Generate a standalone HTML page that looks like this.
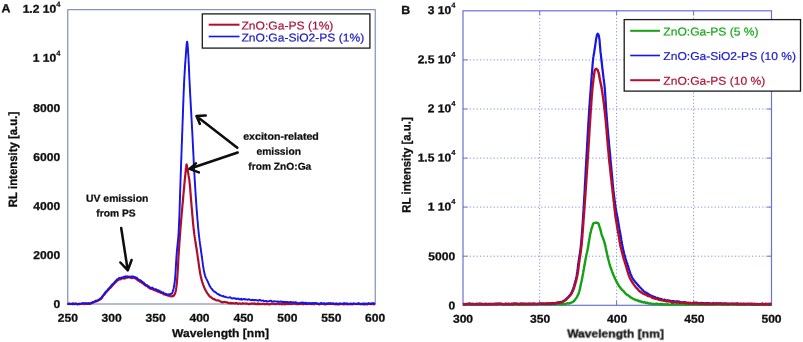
<!DOCTYPE html>
<html><head><meta charset="utf-8"><title>RL spectra</title>
<style>
html,body{margin:0;padding:0;background:#fff;}
svg{display:block;}
text{font-family:"Liberation Sans",sans-serif;}
.b{font-weight:bold;font-size:11.4px;fill:#111;stroke:#111;stroke-width:0.3px;}
.s{font-weight:bold;font-size:7.2px;fill:#111;stroke:#111;stroke-width:0.2px;}
.an{font-weight:bold;font-size:10.05px;fill:#111;stroke:#111;stroke-width:0.25px;}
.lg{font-size:11.4px;}
</style></head><body>
<svg width="803" height="342" viewBox="0 0 803 342">
<rect width="803" height="342" fill="#fff"/>
<defs><filter id="soft" x="0" y="0" width="803" height="342" filterUnits="userSpaceOnUse"><feGaussianBlur stdDeviation="0.45"/></filter></defs>
<g filter="url(#soft)">

<rect x="67.8" y="9.7" width="307.4" height="294.3" fill="none" stroke="#6878b4" stroke-width="1.0"/>
<text class="b" transform="translate(56.2,12.7) rotate(0.03) scale(1.0600,1)" text-anchor="end">1.2 10</text>
<text class="s" transform="translate(56.2,6.7) rotate(0.03) scale(1.0600,1)">4</text>
<text class="b" transform="translate(56.2,61.8) rotate(0.03) scale(1.0600,1)" text-anchor="end">1 10</text>
<text class="s" transform="translate(56.2,55.8) rotate(0.03) scale(1.0600,1)">4</text>
<text class="b" transform="translate(60.2,111.9) rotate(0.03) scale(1.0600,1)" text-anchor="end">8000</text>
<text class="b" transform="translate(60.2,160.9) rotate(0.03) scale(1.0600,1)" text-anchor="end">6000</text>
<text class="b" transform="translate(60.2,210.0) rotate(0.03) scale(1.0600,1)" text-anchor="end">4000</text>
<text class="b" transform="translate(60.2,259.1) rotate(0.03) scale(1.0600,1)" text-anchor="end">2000</text>
<text class="b" transform="translate(60.2,308.1) rotate(0.03) scale(1.0600,1)" text-anchor="end">0</text>
<text class="b" transform="translate(67.8,321.8) rotate(0.03) scale(1.0600,1)" text-anchor="middle">250</text>
<text class="b" transform="translate(111.7,321.8) rotate(0.03) scale(1.0600,1)" text-anchor="middle">300</text>
<text class="b" transform="translate(155.6,321.8) rotate(0.03) scale(1.0600,1)" text-anchor="middle">350</text>
<text class="b" transform="translate(199.5,321.8) rotate(0.03) scale(1.0600,1)" text-anchor="middle">400</text>
<text class="b" transform="translate(243.5,321.8) rotate(0.03) scale(1.0600,1)" text-anchor="middle">450</text>
<text class="b" transform="translate(287.4,321.8) rotate(0.03) scale(1.0600,1)" text-anchor="middle">500</text>
<text class="b" transform="translate(331.3,321.8) rotate(0.03) scale(1.0600,1)" text-anchor="middle">550</text>
<text class="b" transform="translate(375.2,321.8) rotate(0.03) scale(1.0600,1)" text-anchor="middle">600</text>
<text class="b" transform="translate(220.5,337) rotate(0.03) scale(1.0600,1)" text-anchor="middle">Wavelength [nm]</text>
<text class="b" transform="translate(16.9,159.5) rotate(-90.03) scale(1,1.06)" text-anchor="middle">RL intensity [a.u.]</text>
<text class="b" transform="translate(1.4,12.2) rotate(0.03) scale(1.0600,1)" style="font-size:11.7px;">A</text>
<path d="M67.5,303.6 L68.5,303.9 L69.5,303.8 L70.5,304.0 L71.5,304.0 L72.5,303.4 L73.5,303.4 L74.5,304.2 L75.5,303.6 L76.5,303.6 L77.5,304.3 L78.5,303.8 L79.5,304.1 L80.5,303.8 L81.5,303.9 L82.5,303.4 L83.5,303.9 L84.5,304.1 L85.6,303.7 L86.6,303.9 L87.5,303.8 L88.5,303.2 L89.5,303.9 L90.5,303.6 L91.4,303.0 L92.4,302.4 L93.3,302.7 L94.2,301.9 L95.1,301.7 L96.1,301.5 L97.1,301.0 L98.0,300.8 L99.0,300.0 L99.8,299.8 L100.5,299.1 L101.2,298.7 L101.9,297.9 L102.5,296.8 L103.1,295.9 L103.7,295.1 L104.4,294.6 L105.0,293.6 L105.7,292.9 L106.3,292.0 L107.0,291.4 L107.7,290.6 L108.4,289.8 L109.0,289.2 L109.7,288.4 L110.4,287.9 L111.1,287.0 L111.7,286.4 L112.4,285.6 L113.1,284.9 L113.8,284.1 L114.5,283.1 L115.2,282.7 L115.9,282.0 L116.6,281.2 L117.3,280.4 L118.1,280.1 L119.0,279.3 L120.0,279.5 L121.0,279.0 L122.0,278.5 L122.9,278.1 L123.9,278.6 L124.9,278.4 L125.9,277.3 L126.9,277.9 L127.8,277.4 L128.8,277.2 L129.9,277.3 L130.9,277.9 L131.9,278.1 L132.9,277.3 L133.8,278.0 L134.8,277.7 L135.7,278.7 L136.5,278.9 L137.4,279.9 L138.3,280.6 L139.1,280.8 L139.9,281.7 L140.7,281.8 L141.5,282.3 L142.3,283.2 L143.1,283.5 L143.9,284.2 L144.7,284.9 L145.6,285.6 L146.4,285.8 L147.3,286.2 L148.1,287.3 L149.0,287.4 L149.9,288.4 L150.8,288.8 L151.7,288.8 L152.6,289.3 L153.5,289.7 L154.5,290.2 L155.4,290.5 L156.3,290.8 L157.2,291.3 L158.2,291.9 L159.1,292.0 L160.0,292.3 L160.9,292.9 L161.8,292.9 L162.8,293.4 L163.7,294.3 L164.6,294.4 L165.5,294.8 L166.5,294.7 L167.4,295.4 L168.4,295.8 L169.3,295.5 L170.4,296.2 L171.4,296.4 L172.4,295.9 L173.1,296.2 L173.9,295.4 L174.6,294.5 L175.1,293.4 L175.3,292.5 L175.6,291.6 L175.8,290.7 L176.0,289.7 L176.1,288.7 L176.3,287.7 L176.4,286.7 L176.5,285.7 L176.7,284.6 L176.8,283.6 L176.9,282.6 L176.9,281.6 L177.0,280.6 L177.1,279.6 L177.2,278.6 L177.3,277.6 L177.4,276.6 L177.4,275.6 L177.5,274.6 L177.6,273.6 L177.6,272.6 L177.7,271.6 L177.7,270.6 L177.8,269.6 L177.9,268.6 L177.9,267.6 L178.0,266.6 L178.0,265.6 L178.1,264.6 L178.1,263.6 L178.2,262.6 L178.2,261.6 L178.3,260.6 L178.3,259.6 L178.4,258.6 L178.4,257.6 L178.5,256.6 L178.6,255.6 L178.6,254.6 L178.7,253.6 L178.8,252.6 L178.8,251.6 L178.9,250.6 L179.0,249.6 L179.0,248.6 L179.1,247.6 L179.2,246.6 L179.2,245.6 L179.3,244.6 L179.4,243.6 L179.4,242.6 L179.5,241.6 L179.6,240.6 L179.7,239.6 L179.7,238.6 L179.8,237.6 L179.9,236.6 L179.9,235.7 L180.0,234.7 L180.1,233.7 L180.2,232.7 L180.2,231.7 L180.3,230.7 L180.4,229.7 L180.5,228.7 L180.6,227.7 L180.6,226.7 L180.7,225.7 L180.8,224.7 L180.9,223.7 L181.0,222.7 L181.1,221.7 L181.1,220.7 L181.2,219.7 L181.3,218.7 L181.4,217.7 L181.5,216.7 L181.6,215.7 L181.6,214.7 L181.7,213.7 L181.8,212.7 L181.9,211.7 L182.0,210.7 L182.1,209.7 L182.2,208.7 L182.3,207.7 L182.3,206.7 L182.4,205.7 L182.5,204.7 L182.6,203.7 L182.7,202.8 L182.8,201.8 L182.9,200.8 L183.0,199.8 L183.1,198.8 L183.1,197.8 L183.2,196.8 L183.3,195.8 L183.4,194.8 L183.5,193.8 L183.6,192.8 L183.7,191.8 L183.8,190.8 L183.9,189.8 L184.0,188.8 L184.1,187.8 L184.2,186.8 L184.2,185.8 L184.3,184.8 L184.4,183.8 L184.5,182.8 L184.6,181.8 L184.7,180.8 L184.8,179.8 L184.9,178.8 L185.0,177.8 L185.1,176.9 L185.2,175.9 L185.3,174.9 L185.4,173.9 L185.5,172.9 L185.6,171.9 L185.7,170.9 L185.8,169.9 L185.9,168.7 L186.1,167.4 L186.2,166.1 L186.4,165.1 L186.5,164.5 L186.7,164.4 L186.8,165.0 L187.0,166.0 L187.2,167.3 L187.4,168.6 L187.6,169.8 L187.7,170.8 L187.9,171.7 L188.1,172.7 L188.3,173.7 L188.5,174.7 L188.6,175.7 L188.8,176.7 L189.0,177.7 L189.1,178.6 L189.3,179.6 L189.4,180.6 L189.5,181.6 L189.6,182.6 L189.7,183.6 L189.8,184.6 L189.9,185.6 L190.0,186.6 L190.1,187.6 L190.2,188.6 L190.3,189.6 L190.3,190.6 L190.4,191.6 L190.5,192.6 L190.6,193.6 L190.7,194.6 L190.7,195.6 L190.8,196.6 L190.9,197.6 L191.0,198.6 L191.0,199.6 L191.1,200.6 L191.2,201.6 L191.3,202.6 L191.4,203.5 L191.5,204.6 L191.5,205.5 L191.6,206.5 L191.7,207.5 L191.8,208.5 L191.9,209.5 L192.0,210.5 L192.1,211.5 L192.2,212.5 L192.2,213.5 L192.3,214.5 L192.4,215.5 L192.5,216.5 L192.6,217.5 L192.7,218.5 L192.8,219.5 L192.8,220.5 L192.9,221.5 L193.0,222.5 L193.1,223.5 L193.2,224.5 L193.3,225.5 L193.4,226.5 L193.5,227.5 L193.6,228.5 L193.7,229.5 L193.9,230.4 L194.0,231.4 L194.1,232.4 L194.2,233.4 L194.3,234.4 L194.5,235.4 L194.6,236.4 L194.8,237.4 L194.9,238.4 L195.1,239.4 L195.2,240.4 L195.4,241.3 L195.5,242.3 L195.7,243.3 L195.8,244.3 L196.0,245.3 L196.1,246.3 L196.3,247.3 L196.5,248.3 L196.6,249.3 L196.8,250.2 L196.9,251.2 L197.1,252.2 L197.2,253.2 L197.4,254.2 L197.5,255.2 L197.7,256.2 L197.8,257.2 L198.0,258.2 L198.1,259.2 L198.2,260.1 L198.4,261.1 L198.5,262.1 L198.6,263.1 L198.8,264.1 L198.9,265.1 L199.0,266.1 L199.2,267.1 L199.3,268.1 L199.5,269.1 L199.6,270.1 L199.8,271.0 L199.9,272.0 L200.1,273.0 L200.3,274.0 L200.5,275.0 L200.7,275.9 L200.9,276.9 L201.1,277.9 L201.4,278.9 L201.6,279.9 L201.9,280.8 L202.2,281.8 L202.5,282.7 L202.8,283.7 L203.1,284.6 L203.5,285.5 L203.8,286.5 L204.2,287.4 L204.6,288.3 L205.0,289.2 L205.5,290.1 L206.0,291.1 L206.5,291.8 L207.0,292.9 L207.6,293.6 L208.2,294.5 L208.8,295.2 L209.4,296.1 L210.1,296.8 L210.9,297.2 L211.8,297.8 L212.6,298.5 L213.5,299.1 L214.5,299.1 L215.4,299.8 L216.3,300.4 L217.2,300.3 L218.2,300.4 L219.1,300.7 L220.1,301.5 L221.1,301.7 L222.0,302.2 L223.0,302.3 L224.0,301.9 L225.0,302.0 L226.0,302.2 L227.0,302.3 L228.0,302.9 L229.0,303.2 L230.0,303.3 L231.0,302.8 L232.0,303.5 L233.0,303.0 L233.9,303.2 L234.9,303.6 L235.9,303.0 L236.9,303.1 L237.9,303.9 L238.9,303.4 L239.9,303.5 L240.9,303.7 L241.9,303.8 L242.9,303.2 L243.9,303.5 L244.9,303.6 L245.9,303.7 L246.9,303.4 L247.9,303.8 L248.9,304.2 L249.9,303.7 L250.9,303.8 L251.9,303.4 L252.9,303.6 L253.9,304.0 L254.9,303.4 L255.9,304.2 L256.9,304.2 L257.9,303.4 L258.9,304.3 L259.9,303.7 L260.9,304.1 L262.0,304.1 L263.0,303.7 L264.0,304.1 L265.0,304.0 L266.0,304.2 L267.0,303.7 L268.0,304.1 L269.0,304.4 L270.0,304.1 L271.0,303.9 L272.0,303.5 L273.0,303.9 L274.0,303.8 L275.0,304.1 L276.0,304.1 L277.0,304.0 L278.0,303.6 L279.0,304.1 L280.0,304.1 L281.0,303.6 L282.0,304.3 L283.0,304.1 L284.0,303.5 L285.0,304.4 L286.0,303.6 L287.0,303.8 L288.0,304.2 L289.0,304.0 L290.0,304.0 L291.0,304.1 L292.0,303.9 L293.0,303.8 L294.0,303.6 L295.0,303.5 L296.0,304.2 L297.0,304.2 L298.0,304.0 L299.0,304.2 L300.0,303.8 L301.0,303.7 L302.0,303.8 L303.0,304.3 L304.0,303.5 L305.0,304.0 L306.0,303.7 L307.0,304.2 L308.0,303.8 L309.0,303.8 L310.0,303.9 L311.0,304.0 L312.0,304.2 L313.0,303.8 L314.0,304.3 L315.0,303.6 L316.0,303.7 L317.0,303.6 L318.0,303.6 L319.0,304.3 L320.0,304.2 L321.0,303.7 L322.0,303.7 L323.0,303.9 L324.0,304.2 L325.0,304.3 L326.0,304.2 L327.0,304.1 L328.0,303.6 L329.0,303.9 L330.0,303.7 L331.0,304.0 L332.0,304.1 L333.0,303.7 L334.0,303.7 L335.0,304.3 L336.0,303.5 L337.0,304.3 L338.0,304.4 L339.0,304.4 L340.0,303.9 L341.0,304.0 L342.0,304.1 L343.0,304.1 L344.0,304.5 L345.0,304.2 L346.0,303.8 L347.0,304.4 L348.0,304.0 L349.0,304.1 L350.0,304.2 L351.0,303.5 L352.0,304.3 L353.0,304.2 L354.0,304.0 L355.0,304.0 L356.0,304.0 L357.0,303.7 L358.0,304.0 L359.0,303.5 L360.0,304.0 L361.0,304.1 L362.0,303.9 L363.0,304.1 L364.0,304.5 L365.0,304.4 L366.0,303.6 L367.0,304.3 L368.0,304.1 L369.0,303.6 L370.0,303.9 L371.0,303.7 L372.0,303.6 L373.0,304.0 L374.0,304.4 L375.0,303.8" fill="none" stroke="#b0102c" stroke-width="2.2" stroke-linejoin="round"/>
<path d="M67.5,304.2 L68.5,304.0 L69.5,303.4 L70.5,304.2 L71.5,303.9 L72.5,304.3 L73.5,304.0 L74.5,304.0 L75.5,303.6 L76.5,304.1 L77.5,304.2 L78.5,304.2 L79.5,303.6 L80.5,304.0 L81.5,303.7 L82.5,303.2 L83.5,303.1 L84.6,303.1 L85.6,303.3 L86.6,303.2 L87.6,303.6 L88.5,303.8 L89.5,303.5 L90.4,303.3 L91.4,303.2 L92.3,302.4 L93.2,302.1 L94.1,301.9 L95.0,301.1 L96.0,300.5 L96.9,300.8 L97.9,300.2 L98.8,299.5 L99.6,299.0 L100.4,298.6 L101.1,298.0 L101.8,297.1 L102.4,296.2 L103.0,295.5 L103.6,294.9 L104.2,293.8 L104.8,293.1 L105.5,292.2 L106.1,291.4 L106.8,290.7 L107.5,290.1 L108.1,289.2 L108.8,288.4 L109.5,287.7 L110.1,287.0 L110.8,286.4 L111.5,285.4 L112.1,284.6 L112.8,284.1 L113.5,283.4 L114.2,282.8 L114.9,281.7 L115.5,281.1 L116.2,280.4 L116.9,279.4 L117.7,279.5 L118.6,278.4 L119.5,277.9 L120.5,278.1 L121.5,277.5 L122.5,277.7 L123.4,277.2 L124.4,276.7 L125.4,276.3 L126.4,276.9 L127.4,276.3 L128.3,276.8 L129.4,276.5 L130.4,277.1 L131.4,276.4 L132.4,276.4 L133.4,276.5 L134.3,277.2 L135.2,277.3 L136.1,277.5 L137.0,277.9 L137.8,279.0 L138.7,279.8 L139.5,280.0 L140.3,280.2 L141.1,280.8 L141.9,281.5 L142.7,282.1 L143.5,282.6 L144.3,283.2 L145.1,284.3 L146.0,285.0 L146.8,284.9 L147.7,286.1 L148.6,286.2 L149.4,287.0 L150.3,287.6 L151.2,288.0 L152.1,287.5 L153.1,288.2 L154.0,288.9 L154.9,289.6 L155.8,289.1 L156.8,289.7 L157.7,290.6 L158.6,290.3 L159.5,291.0 L160.4,291.3 L161.4,292.1 L162.3,292.7 L163.2,292.3 L164.2,293.3 L165.1,293.7 L166.1,294.2 L167.0,294.2 L168.0,294.8 L168.9,294.2 L170.0,294.2 L171.1,293.8 L171.7,293.9 L172.2,293.0 L172.6,292.0 L173.0,290.9 L173.2,289.9 L173.5,288.9 L173.7,287.9 L173.9,287.0 L174.1,286.0 L174.3,285.0 L174.4,284.0 L174.6,283.0 L174.7,282.0 L174.8,281.0 L174.9,280.0 L175.0,279.0 L175.1,278.0 L175.2,277.0 L175.3,276.0 L175.3,275.0 L175.4,274.0 L175.5,273.0 L175.5,272.0 L175.6,271.0 L175.7,270.0 L175.7,269.0 L175.8,268.0 L175.8,267.0 L175.9,266.1 L176.0,265.0 L176.0,264.0 L176.1,263.0 L176.1,262.0 L176.2,261.0 L176.3,260.0 L176.3,259.0 L176.4,258.0 L176.4,257.0 L176.5,256.1 L176.6,255.0 L176.7,254.1 L176.8,253.1 L176.8,252.1 L176.9,251.1 L177.0,250.1 L177.1,249.1 L177.2,248.1 L177.3,247.1 L177.4,246.1 L177.5,245.1 L177.6,244.1 L177.7,243.1 L177.8,242.1 L177.9,241.1 L178.0,240.1 L178.1,239.1 L178.2,238.1 L178.3,237.1 L178.4,236.1 L178.4,235.1 L178.5,234.1 L178.6,233.1 L178.6,232.1 L178.7,231.1 L178.7,230.1 L178.8,229.1 L178.8,228.1 L178.9,227.1 L178.9,226.1 L179.0,225.2 L179.0,224.2 L179.1,223.2 L179.1,222.2 L179.2,221.2 L179.2,220.2 L179.2,219.2 L179.3,218.2 L179.3,217.2 L179.4,216.2 L179.4,215.2 L179.4,214.2 L179.5,213.2 L179.5,212.2 L179.5,211.2 L179.6,210.2 L179.6,209.2 L179.6,208.2 L179.7,207.2 L179.7,206.2 L179.7,205.2 L179.8,204.2 L179.8,203.2 L179.8,202.2 L179.9,201.2 L179.9,200.2 L179.9,199.2 L180.0,198.2 L180.0,197.2 L180.0,196.2 L180.0,195.2 L180.1,194.2 L180.1,193.2 L180.1,192.2 L180.2,191.2 L180.2,190.2 L180.2,189.2 L180.3,188.2 L180.3,187.2 L180.3,186.2 L180.4,185.2 L180.4,184.2 L180.4,183.2 L180.5,182.2 L180.5,181.2 L180.5,180.2 L180.6,179.2 L180.6,178.2 L180.6,177.2 L180.7,176.2 L180.7,175.2 L180.7,174.2 L180.8,173.2 L180.8,172.2 L180.9,171.2 L180.9,170.2 L180.9,169.2 L181.0,168.2 L181.0,167.2 L181.0,166.2 L181.1,165.2 L181.1,164.2 L181.1,163.2 L181.2,162.2 L181.2,161.2 L181.2,160.2 L181.3,159.2 L181.3,158.2 L181.4,157.2 L181.4,156.2 L181.4,155.2 L181.5,154.2 L181.5,153.2 L181.5,152.2 L181.6,151.2 L181.6,150.2 L181.6,149.2 L181.7,148.2 L181.7,147.2 L181.7,146.2 L181.8,145.2 L181.8,144.2 L181.9,143.2 L181.9,142.2 L181.9,141.2 L182.0,140.2 L182.0,139.2 L182.0,138.2 L182.1,137.2 L182.1,136.2 L182.1,135.2 L182.2,134.2 L182.2,133.2 L182.3,132.2 L182.3,131.2 L182.3,130.2 L182.4,129.2 L182.4,128.2 L182.4,127.2 L182.5,126.2 L182.5,125.2 L182.5,124.2 L182.6,123.2 L182.6,122.2 L182.6,121.2 L182.7,120.2 L182.7,119.2 L182.8,118.2 L182.8,117.2 L182.8,116.2 L182.9,115.2 L182.9,114.2 L182.9,113.2 L183.0,112.2 L183.0,111.2 L183.0,110.2 L183.1,109.2 L183.1,108.2 L183.1,107.2 L183.2,106.2 L183.2,105.2 L183.2,104.2 L183.3,103.2 L183.3,102.2 L183.4,101.2 L183.4,100.2 L183.4,99.2 L183.5,98.2 L183.5,97.2 L183.5,96.2 L183.6,95.2 L183.6,94.2 L183.7,93.2 L183.7,92.2 L183.7,91.2 L183.8,90.2 L183.8,89.2 L183.9,88.2 L183.9,87.2 L184.0,86.2 L184.0,85.2 L184.0,84.2 L184.1,83.2 L184.1,82.2 L184.2,81.2 L184.2,80.2 L184.3,79.2 L184.3,78.2 L184.4,77.2 L184.4,76.2 L184.5,75.2 L184.6,74.2 L184.6,73.2 L184.7,72.2 L184.7,71.2 L184.8,70.2 L184.9,69.2 L184.9,68.2 L185.0,67.2 L185.0,66.2 L185.1,65.2 L185.2,64.2 L185.2,63.2 L185.3,62.2 L185.4,61.2 L185.5,60.2 L185.5,59.2 L185.6,58.3 L185.7,57.3 L185.8,56.2 L185.8,55.1 L185.9,53.9 L186.0,52.6 L186.1,51.3 L186.2,49.9 L186.3,48.6 L186.4,47.4 L186.5,46.2 L186.6,45.1 L186.7,44.1 L186.8,43.2 L186.9,42.5 L187.0,42.1 L187.1,41.7 L187.1,41.6 L187.2,42.1 L187.3,42.5 L187.4,43.2 L187.5,44.0 L187.6,45.0 L187.7,46.1 L187.8,47.3 L187.9,48.6 L188.0,49.9 L188.1,51.2 L188.1,52.5 L188.2,53.8 L188.3,55.1 L188.4,56.2 L188.4,57.2 L188.5,58.2 L188.5,59.2 L188.6,60.2 L188.6,61.2 L188.7,62.2 L188.7,63.2 L188.8,64.2 L188.8,65.2 L188.9,66.2 L188.9,67.2 L189.0,68.2 L189.0,69.2 L189.0,70.2 L189.1,71.2 L189.1,72.2 L189.2,73.2 L189.2,74.2 L189.2,75.2 L189.3,76.2 L189.3,77.2 L189.4,78.2 L189.4,79.2 L189.5,80.2 L189.5,81.2 L189.6,82.2 L189.6,83.2 L189.7,84.2 L189.7,85.2 L189.8,86.2 L189.8,87.2 L189.9,88.2 L189.9,89.2 L190.0,90.2 L190.0,91.2 L190.1,92.2 L190.1,93.2 L190.2,94.2 L190.2,95.2 L190.3,96.2 L190.3,97.2 L190.4,98.2 L190.5,99.2 L190.5,100.2 L190.6,101.2 L190.6,102.2 L190.7,103.2 L190.7,104.2 L190.8,105.2 L190.8,106.2 L190.9,107.2 L190.9,108.2 L191.0,109.2 L191.1,110.2 L191.1,111.2 L191.2,112.2 L191.2,113.2 L191.3,114.2 L191.3,115.2 L191.4,116.2 L191.4,117.2 L191.5,118.2 L191.6,119.2 L191.6,120.2 L191.7,121.2 L191.7,122.2 L191.8,123.2 L191.8,124.2 L191.9,125.2 L191.9,126.2 L192.0,127.2 L192.0,128.1 L192.1,129.1 L192.2,130.1 L192.2,131.1 L192.3,132.1 L192.3,133.1 L192.4,134.1 L192.4,135.1 L192.5,136.1 L192.5,137.1 L192.6,138.1 L192.6,139.1 L192.7,140.1 L192.7,141.1 L192.8,142.1 L192.8,143.1 L192.9,144.1 L192.9,145.1 L193.0,146.1 L193.0,147.1 L193.1,148.1 L193.1,149.1 L193.2,150.1 L193.2,151.1 L193.3,152.1 L193.3,153.1 L193.4,154.1 L193.4,155.1 L193.5,156.1 L193.5,157.1 L193.6,158.1 L193.6,159.1 L193.7,160.1 L193.7,161.1 L193.8,162.1 L193.8,163.1 L193.9,164.1 L193.9,165.1 L194.0,166.1 L194.0,167.1 L194.1,168.1 L194.1,169.1 L194.2,170.1 L194.2,171.1 L194.3,172.1 L194.3,173.1 L194.4,174.1 L194.5,175.1 L194.5,176.1 L194.6,177.1 L194.6,178.1 L194.7,179.1 L194.7,180.1 L194.8,181.1 L194.9,182.1 L194.9,183.1 L195.0,184.1 L195.1,185.1 L195.1,186.1 L195.2,187.1 L195.2,188.1 L195.3,189.1 L195.4,190.1 L195.4,191.1 L195.5,192.1 L195.6,193.1 L195.6,194.1 L195.7,195.1 L195.7,196.1 L195.8,197.1 L195.9,198.1 L195.9,199.1 L196.0,200.1 L196.1,201.1 L196.1,202.1 L196.2,203.1 L196.3,204.0 L196.4,205.0 L196.4,206.0 L196.5,207.0 L196.6,208.0 L196.6,209.0 L196.7,210.0 L196.8,211.0 L196.9,212.0 L196.9,213.0 L197.0,214.0 L197.1,215.0 L197.2,216.0 L197.3,217.0 L197.3,218.0 L197.4,219.0 L197.5,220.0 L197.6,221.0 L197.7,222.0 L197.8,223.0 L197.9,224.0 L197.9,225.0 L198.0,226.0 L198.1,227.0 L198.2,228.0 L198.3,229.0 L198.4,230.0 L198.5,231.0 L198.6,231.9 L198.7,232.9 L198.8,233.9 L198.9,234.9 L199.0,235.9 L199.1,236.9 L199.3,237.9 L199.4,238.9 L199.5,239.9 L199.6,240.9 L199.8,241.9 L199.9,242.9 L200.0,243.9 L200.2,244.9 L200.3,245.9 L200.4,246.8 L200.6,247.8 L200.7,248.8 L200.9,249.8 L201.0,250.8 L201.1,251.8 L201.3,252.8 L201.4,253.8 L201.6,254.8 L201.7,255.8 L201.8,256.8 L202.0,257.7 L202.1,258.7 L202.3,259.8 L202.4,260.7 L202.5,261.7 L202.7,262.7 L202.8,263.7 L202.9,264.7 L203.1,265.7 L203.2,266.7 L203.4,267.7 L203.6,268.7 L203.7,269.7 L203.9,270.7 L204.1,271.6 L204.3,272.6 L204.5,273.6 L204.8,274.5 L205.0,275.5 L205.3,276.5 L205.7,277.3 L206.1,278.3 L206.5,279.1 L207.0,280.0 L207.4,280.9 L207.9,281.8 L208.3,282.8 L208.7,283.7 L209.1,284.7 L209.5,285.6 L210.0,286.3 L210.5,287.3 L211.0,288.1 L211.6,288.7 L212.3,289.5 L213.0,290.3 L213.7,291.3 L214.5,291.7 L215.3,292.1 L216.1,292.8 L216.9,293.5 L217.7,294.1 L218.6,294.3 L219.6,295.2 L220.5,295.1 L221.4,295.9 L222.4,296.2 L223.3,296.0 L224.3,296.9 L225.2,296.7 L226.2,297.1 L227.2,297.4 L228.2,297.6 L229.2,297.5 L230.2,297.2 L231.2,298.2 L232.2,298.5 L233.1,298.2 L234.1,298.4 L235.1,298.1 L236.1,299.0 L237.1,298.9 L238.1,298.4 L239.1,299.2 L240.1,299.5 L241.1,298.8 L242.1,299.7 L243.1,299.2 L244.1,298.9 L245.1,299.6 L246.1,299.2 L247.1,299.8 L248.1,299.7 L249.1,299.2 L250.1,299.8 L251.1,300.2 L252.1,299.8 L253.1,300.0 L254.1,300.4 L255.1,300.0 L256.1,300.1 L257.1,300.3 L258.1,300.7 L259.1,300.0 L260.1,299.9 L261.1,300.8 L262.1,300.6 L263.1,300.4 L264.1,301.2 L265.1,301.2 L266.1,300.9 L267.0,301.5 L268.0,301.4 L269.0,301.3 L270.0,300.9 L271.0,300.6 L272.0,301.5 L273.0,301.6 L274.0,301.2 L275.0,301.4 L276.0,301.6 L277.0,301.3 L278.0,301.9 L279.0,301.8 L280.0,301.7 L281.0,301.4 L282.0,302.0 L283.0,301.8 L284.0,302.4 L285.0,301.8 L286.0,302.1 L287.0,301.9 L288.0,302.2 L289.0,302.5 L290.0,302.0 L291.0,302.0 L292.0,302.5 L293.0,302.2 L294.0,302.6 L295.0,302.3 L296.0,302.2 L297.0,302.8 L298.0,303.3 L299.0,303.3 L300.0,302.9 L301.0,302.8 L302.0,302.4 L303.0,302.7 L304.0,302.8 L305.0,303.6 L306.0,302.6 L307.0,303.7 L308.0,303.1 L309.0,303.1 L310.0,302.9 L311.0,303.8 L312.0,302.9 L313.0,303.3 L314.0,303.3 L315.0,302.9 L316.0,303.0 L317.0,303.9 L318.0,303.7 L319.0,303.6 L320.0,303.9 L321.0,302.9 L322.0,303.6 L323.0,303.7 L324.0,303.1 L325.0,303.4 L326.0,304.0 L327.0,303.3 L328.0,303.8 L329.0,303.1 L330.0,303.7 L331.0,303.2 L332.0,303.5 L333.0,303.4 L334.0,304.0 L335.0,303.9 L336.0,303.6 L337.0,303.8 L338.0,303.5 L339.0,304.0 L340.0,303.3 L341.0,303.7 L342.0,303.7 L343.0,303.5 L344.0,303.1 L345.0,303.2 L346.0,303.8 L347.0,303.3 L348.0,304.0 L349.0,303.7 L350.0,304.2 L351.0,304.1 L352.0,304.0 L353.0,303.5 L354.0,303.2 L355.0,303.8 L356.0,304.0 L357.0,304.2 L358.0,303.4 L359.0,303.3 L360.0,304.3 L361.0,304.0 L362.0,303.7 L363.0,304.0 L364.0,303.3 L365.0,303.8 L366.0,304.0 L367.0,303.9 L368.0,303.4 L369.0,303.3 L370.0,303.9 L371.0,304.3 L372.0,303.4 L373.0,303.2 L374.0,303.3 L375.0,304.1" fill="none" stroke="#1212e6" stroke-width="1.9" stroke-linejoin="round"/>
<rect x="202.3" y="13.9" width="167.6" height="34.2" fill="#fff" stroke="#1a1a1a" stroke-width="1.3"/>
<line x1="208.7" y1="24.7" x2="239.5" y2="24.7" stroke="#b0102c" stroke-width="2"/>
<line x1="208.7" y1="36.5" x2="239.5" y2="36.5" stroke="#1212e6" stroke-width="1.6"/>
<text class="lg" transform="translate(241.5,29.4) rotate(0.03) scale(1.0600,1)" fill="#a8143c" stroke="#a8143c" stroke-width="0.2">ZnO:Ga-PS (1%)</text>
<text class="lg" transform="translate(241.5,41.4) rotate(0.03) scale(1.0600,1)" fill="#1a1ac4" stroke="#1a1ac4" stroke-width="0.2">ZnO:Ga-SiO2-PS (1%)</text>
<text class="an" transform="translate(281,139.7) rotate(0.03) scale(1.0600,1)" text-anchor="middle">exciton-related</text>
<text class="an" transform="translate(278.7,154.7) rotate(0.03) scale(1.0250,1)" text-anchor="middle">emission</text>
<text class="an" transform="translate(279.8,169.7) rotate(0.03) scale(1.0176,1)" text-anchor="middle">from ZnO:Ga</text>
<text class="an" transform="translate(117.2,201.7) rotate(0.03) scale(1.0335,1)" text-anchor="middle">UV emission</text>
<text class="an" transform="translate(115.9,216.6) rotate(0.03) scale(1.0229,1)" text-anchor="middle">from PS</text>
<path d="M237.3,147.8 L196.6,116.2 M205.7,115.5 L196.5,116 L199.9,123.9" fill="none" stroke="#0a0a0a" stroke-width="2.5" stroke-linecap="round" stroke-linejoin="round"/>
<path d="M237.7,152.5 L189.6,168.8 M195.9,163.4 L189.4,168.9 L198.9,172.4" fill="none" stroke="#0a0a0a" stroke-width="2.5" stroke-linecap="round" stroke-linejoin="round"/>
<path d="M121.2,228 L127.7,270 M120.4,262.5 L127.8,270.4 L131.6,260" fill="none" stroke="#0a0a0a" stroke-width="2.5" stroke-linecap="round" stroke-linejoin="round"/>
<line x1="463" y1="59.9" x2="771.5" y2="59.9" stroke="#8590dc" stroke-width="1" stroke-dasharray="1.2,2.2"/>
<line x1="463" y1="109.0" x2="771.5" y2="109.0" stroke="#8590dc" stroke-width="1" stroke-dasharray="1.2,2.2"/>
<line x1="463" y1="158.1" x2="771.5" y2="158.1" stroke="#8590dc" stroke-width="1" stroke-dasharray="1.2,2.2"/>
<line x1="463" y1="207.1" x2="771.5" y2="207.1" stroke="#8590dc" stroke-width="1" stroke-dasharray="1.2,2.2"/>
<line x1="463" y1="256.2" x2="771.5" y2="256.2" stroke="#8590dc" stroke-width="1" stroke-dasharray="1.2,2.2"/>
<line x1="539.7" y1="10.8" x2="539.7" y2="305.3" stroke="#8590dc" stroke-width="1" stroke-dasharray="1.2,2.2"/>
<line x1="616.6" y1="10.8" x2="616.6" y2="305.3" stroke="#8590dc" stroke-width="1" stroke-dasharray="1.2,2.2"/>
<line x1="693.6" y1="10.8" x2="693.6" y2="305.3" stroke="#8590dc" stroke-width="1" stroke-dasharray="1.2,2.2"/>
<path d="M463,59.9h4.5M771.5,59.9h-4.5M463,109.0h4.5M771.5,109.0h-4.5M463,158.1h4.5M771.5,158.1h-4.5M463,207.1h4.5M771.5,207.1h-4.5M463,256.2h4.5M771.5,256.2h-4.5M539.7,10.8v4.5M539.7,305.3v-4.5M616.6,10.8v4.5M616.6,305.3v-4.5M693.6,10.8v4.5M693.6,305.3v-4.5" fill="none" stroke="#7078d8" stroke-width="1"/>
<rect x="463" y="10.8" width="308.5" height="294.5" fill="none" stroke="#6a72d6" stroke-width="1.2"/>
<text class="b" transform="translate(451.2,14.1) rotate(0.03) scale(1.0600,1)" text-anchor="end">3 10</text>
<text class="s" transform="translate(451.2,7.8) rotate(0.03) scale(1.0600,1)">4</text>
<text class="b" transform="translate(451.2,63.2) rotate(0.03) scale(1.0600,1)" text-anchor="end">2.5 10</text>
<text class="s" transform="translate(451.2,56.9) rotate(0.03) scale(1.0600,1)">4</text>
<text class="b" transform="translate(451.2,112.3) rotate(0.03) scale(1.0600,1)" text-anchor="end">2 10</text>
<text class="s" transform="translate(451.2,106.0) rotate(0.03) scale(1.0600,1)">4</text>
<text class="b" transform="translate(451.2,161.4) rotate(0.03) scale(1.0600,1)" text-anchor="end">1.5 10</text>
<text class="s" transform="translate(451.2,155.1) rotate(0.03) scale(1.0600,1)">4</text>
<text class="b" transform="translate(451.2,210.4) rotate(0.03) scale(1.0600,1)" text-anchor="end">1 10</text>
<text class="s" transform="translate(451.2,204.1) rotate(0.03) scale(1.0600,1)">4</text>
<text class="b" transform="translate(455.2,260.3) rotate(0.03) scale(1.0600,1)" text-anchor="end">5000</text>
<text class="b" transform="translate(455.2,309.4) rotate(0.03) scale(1.0600,1)" text-anchor="end">0</text>
<text class="b" transform="translate(463.0,322.8) rotate(0.03) scale(1.0600,1)" text-anchor="middle">300</text>
<text class="b" transform="translate(540.1,322.8) rotate(0.03) scale(1.0600,1)" text-anchor="middle">350</text>
<text class="b" transform="translate(617.2,322.8) rotate(0.03) scale(1.0600,1)" text-anchor="middle">400</text>
<text class="b" transform="translate(694.4,322.8) rotate(0.03) scale(1.0600,1)" text-anchor="middle">450</text>
<text class="b" transform="translate(771.5,322.8) rotate(0.03) scale(1.0600,1)" text-anchor="middle">500</text>
<text class="b" transform="translate(615.5,337.5) rotate(0.03) scale(1.0600,1)" text-anchor="middle">Wavelength [nm]</text>
<text class="b" transform="translate(410.4,165) rotate(-90.03) scale(1,1.06)" text-anchor="middle">RL intensity [a.u.]</text>
<text class="b" transform="translate(401.2,14.1) rotate(0.03) scale(1.0600,1)" style="font-size:11.7px;">B</text>
<path d="M463.0,304.2 L464.0,304.3 L465.0,304.7 L466.0,304.4 L467.0,304.1 L468.0,304.5 L469.0,303.9 L470.0,304.1 L471.0,304.5 L472.0,304.0 L473.0,303.9 L474.0,304.3 L475.0,304.2 L476.0,304.7 L477.0,304.0 L478.0,304.5 L479.0,304.2 L480.0,304.5 L481.0,304.3 L482.0,304.4 L483.0,304.2 L484.0,304.1 L485.0,304.3 L486.0,304.5 L487.0,304.2 L488.0,304.1 L489.0,304.2 L490.0,304.0 L491.0,304.1 L492.0,304.4 L493.0,304.3 L494.0,304.4 L495.0,304.1 L496.0,303.9 L497.0,303.9 L498.1,304.2 L499.1,304.0 L500.1,304.3 L501.1,304.1 L502.1,304.5 L503.1,304.4 L504.1,304.4 L505.1,304.5 L506.1,304.3 L507.1,304.2 L508.1,304.1 L509.1,303.9 L510.1,304.5 L511.1,304.3 L512.1,304.0 L513.1,304.6 L514.1,304.3 L515.1,304.4 L516.1,304.2 L517.1,304.0 L518.1,304.7 L519.1,304.0 L520.1,304.2 L521.1,304.7 L522.1,304.0 L523.1,304.3 L524.1,304.2 L525.1,304.1 L526.1,304.6 L527.1,304.2 L528.1,303.9 L529.1,304.2 L530.1,303.8 L531.1,304.4 L532.1,304.5 L533.1,304.6 L534.1,303.9 L535.1,304.4 L536.1,304.1 L537.1,304.2 L538.1,304.1 L539.1,304.1 L540.1,303.9 L541.1,304.3 L542.1,303.9 L543.1,304.6 L544.1,303.9 L545.1,304.6 L546.1,304.0 L547.1,303.9 L548.1,304.4 L549.1,304.2 L550.1,304.4 L551.1,304.2 L552.1,304.3 L553.1,303.8 L554.1,304.3 L555.1,304.2 L556.1,304.5 L557.1,303.7 L558.1,303.8 L559.2,304.2 L560.2,304.4 L561.2,304.0 L562.2,304.2 L563.1,304.0 L564.1,303.8 L565.1,303.9 L566.1,303.9 L567.2,303.3 L568.2,303.4 L569.2,303.5 L570.2,302.9 L571.1,302.8 L572.0,302.3 L572.8,301.9 L573.6,301.4 L574.3,300.6 L575.0,299.9 L575.6,298.9 L576.2,298.1 L576.7,297.3 L577.2,296.4 L577.7,295.5 L578.1,294.6 L578.5,293.7 L578.9,292.7 L579.2,291.8 L579.4,290.8 L579.7,289.9 L579.9,288.9 L580.1,287.9 L580.3,286.9 L580.5,285.9 L580.7,284.9 L580.9,284.0 L581.1,283.0 L581.4,282.0 L581.6,281.0 L581.8,280.0 L582.0,279.1 L582.2,278.1 L582.4,277.1 L582.6,276.1 L582.7,275.1 L582.9,274.2 L583.1,273.2 L583.3,272.2 L583.4,271.2 L583.6,270.2 L583.8,269.2 L584.0,268.2 L584.1,267.2 L584.3,266.3 L584.5,265.3 L584.7,264.3 L584.8,263.3 L585.0,262.3 L585.2,261.3 L585.4,260.3 L585.5,259.4 L585.7,258.4 L585.9,257.4 L586.1,256.4 L586.3,255.4 L586.5,254.5 L586.7,253.5 L587.0,252.5 L587.2,251.5 L587.4,250.6 L587.6,249.6 L587.8,248.6 L588.0,247.6 L588.2,246.6 L588.3,245.6 L588.5,244.6 L588.6,243.6 L588.8,242.6 L588.9,241.7 L589.1,240.7 L589.2,239.7 L589.4,238.7 L589.6,237.7 L589.7,236.7 L589.9,235.7 L590.1,234.8 L590.3,233.8 L590.5,232.8 L590.8,231.8 L591.0,230.9 L591.2,229.8 L591.5,228.9 L591.8,228.0 L592.1,227.0 L592.4,226.1 L592.7,225.0 L593.1,223.9 L593.6,223.1 L594.5,223.0 L595.5,222.8 L596.6,222.7 L597.6,223.0 L598.3,223.4 L598.8,224.3 L599.1,225.4 L599.4,226.4 L599.7,227.3 L600.0,228.2 L600.3,229.2 L600.5,230.2 L600.8,231.1 L601.0,232.2 L601.3,233.1 L601.5,234.1 L601.8,235.0 L602.2,235.9 L602.5,236.9 L602.9,237.8 L603.2,238.8 L603.6,239.7 L603.9,240.6 L604.2,241.6 L604.5,242.6 L604.8,243.6 L605.0,244.5 L605.2,245.5 L605.5,246.4 L605.7,247.5 L605.9,248.4 L606.1,249.4 L606.3,250.4 L606.5,251.4 L606.7,252.3 L606.9,253.3 L607.1,254.3 L607.4,255.3 L607.6,256.3 L607.8,257.2 L608.0,258.2 L608.3,259.2 L608.5,260.1 L608.8,261.1 L609.0,262.1 L609.3,263.1 L609.5,264.0 L609.8,265.0 L610.1,265.9 L610.4,266.9 L610.7,267.8 L611.1,268.8 L611.4,269.7 L611.8,270.6 L612.1,271.6 L612.5,272.6 L612.9,273.5 L613.2,274.4 L613.6,275.3 L614.0,276.3 L614.4,277.1 L614.8,278.1 L615.2,279.0 L615.6,279.8 L616.1,280.8 L616.5,281.7 L617.0,282.6 L617.5,283.5 L618.0,284.3 L618.5,285.2 L619.1,285.9 L619.6,287.0 L620.2,287.5 L620.8,288.5 L621.5,289.1 L622.2,290.1 L622.9,290.6 L623.6,291.2 L624.3,292.1 L625.0,292.9 L625.7,293.6 L626.5,294.3 L627.2,295.0 L628.0,295.2 L628.8,296.0 L629.6,296.4 L630.5,297.3 L631.3,297.6 L632.2,298.3 L633.1,298.8 L634.0,299.3 L634.9,299.5 L635.9,300.1 L636.8,300.3 L637.7,300.3 L638.6,301.2 L639.6,301.0 L640.5,301.3 L641.5,302.1 L642.5,302.0 L643.4,302.5 L644.4,302.2 L645.4,302.6 L646.4,303.1 L647.4,302.7 L648.4,303.3 L649.4,303.7 L650.4,303.3 L651.4,303.8 L652.4,303.9 L653.4,303.9 L654.3,304.1 L655.3,304.1 L656.3,303.6 L657.3,303.8 L658.3,304.1 L659.3,304.5 L660.3,303.9 L661.3,304.3 L662.3,303.9 L663.3,304.6 L664.4,304.3 L665.4,304.4 L666.4,304.5 L667.4,304.1 L668.4,304.6 L669.4,304.6 L670.4,304.7 L671.4,304.2 L672.4,304.2 L673.4,304.1 L674.4,304.7 L675.4,304.4 L676.4,304.3 L677.4,304.4 L678.4,304.6 L679.4,304.3 L680.4,304.3 L681.4,304.6 L682.4,304.6 L683.4,304.3 L684.4,304.1 L685.4,304.8 L686.4,304.6 L687.4,304.5 L688.4,304.4 L689.4,304.8 L690.4,304.4 L691.4,304.2 L692.4,304.1 L693.4,304.3 L694.4,304.5 L695.4,304.3 L696.4,304.8 L697.4,304.6 L698.4,304.4 L699.4,304.6 L700.4,304.5 L701.4,304.6 L702.4,304.5 L703.4,304.5 L704.4,304.5 L705.4,304.7 L706.4,304.2 L707.4,304.7 L708.4,304.3 L709.4,304.7 L710.4,304.1 L711.4,304.5 L712.4,304.4 L713.4,304.6 L714.4,304.2 L715.4,304.3 L716.4,304.2 L717.4,304.5 L718.4,304.5 L719.4,304.1 L720.4,304.2 L721.4,304.2 L722.4,304.8 L723.4,304.4 L724.4,304.5 L725.4,304.3 L726.4,304.6 L727.4,304.7 L728.4,304.6 L729.4,304.1 L730.4,304.4 L731.4,304.5 L732.4,304.1 L733.4,304.7 L734.4,304.3 L735.4,304.3 L736.4,304.6 L737.4,304.6 L738.4,304.5 L739.4,304.8 L740.4,304.5 L741.4,304.4 L742.5,304.1 L743.5,304.5 L744.5,304.4 L745.5,304.5 L746.5,304.4 L747.5,304.1 L748.5,304.1 L749.5,304.2 L750.5,304.2 L751.5,304.8 L752.5,304.6 L753.5,304.3 L754.5,304.7 L755.5,304.6 L756.5,304.1 L757.5,304.7 L758.5,304.3 L759.5,304.9 L760.5,304.2 L761.5,304.3 L762.5,304.3 L763.5,304.8 L764.5,304.8 L765.5,304.6 L766.5,304.2 L767.5,304.4 L768.5,304.7 L769.5,304.1 L770.5,304.8 L771.5,304.8" fill="none" stroke="#12a012" stroke-width="2.4" stroke-linejoin="round"/>
<path d="M463.0,304.3 L464.0,304.2 L465.0,304.1 L466.0,304.4 L467.0,303.8 L468.0,303.8 L469.0,303.7 L470.0,303.7 L471.0,304.2 L472.0,303.6 L473.0,304.2 L474.0,303.9 L475.0,304.3 L476.0,304.2 L477.0,304.1 L478.0,304.2 L479.0,303.6 L480.0,303.8 L481.0,303.8 L482.0,303.9 L483.0,304.1 L484.0,304.2 L485.0,304.1 L486.0,304.3 L487.0,304.1 L488.0,303.8 L489.0,303.9 L490.0,304.1 L491.0,304.2 L492.0,303.8 L493.0,303.8 L494.0,304.0 L495.0,303.7 L496.0,304.2 L497.0,303.5 L498.0,304.0 L499.0,303.9 L500.0,303.6 L501.0,303.9 L502.0,303.8 L503.0,304.2 L504.0,304.2 L505.0,303.9 L506.0,304.1 L507.0,304.2 L508.0,303.6 L509.0,304.1 L510.0,304.1 L511.0,304.2 L512.0,304.0 L513.0,303.7 L514.0,303.6 L515.0,303.9 L516.0,303.6 L517.0,304.0 L518.0,303.9 L519.0,304.1 L520.0,303.7 L521.0,303.6 L522.0,304.1 L523.0,303.9 L524.0,303.7 L525.0,303.8 L526.0,303.7 L527.0,303.9 L528.0,303.8 L529.0,303.6 L530.0,304.2 L531.0,304.1 L532.0,304.0 L533.0,303.6 L534.0,303.5 L535.0,303.9 L536.0,304.0 L537.0,303.9 L538.0,303.5 L539.0,303.9 L540.0,303.8 L541.0,303.6 L542.0,303.8 L543.0,303.7 L544.0,303.8 L545.0,303.9 L546.0,304.1 L547.0,303.3 L548.0,303.7 L549.0,303.9 L550.0,303.6 L551.0,303.5 L552.0,303.6 L553.0,302.9 L554.0,303.4 L555.0,303.2 L556.0,303.1 L557.0,302.7 L558.0,302.8 L559.0,302.2 L560.0,302.3 L561.0,301.8 L561.9,302.0 L562.8,301.6 L563.7,300.9 L564.5,300.5 L565.3,299.7 L566.1,299.1 L566.8,298.2 L567.6,297.8 L568.3,297.0 L569.0,296.3 L569.6,295.3 L570.3,294.7 L570.9,293.7 L571.4,293.0 L571.8,292.1 L572.2,291.2 L572.6,290.3 L572.9,289.4 L573.3,288.4 L573.6,287.4 L573.9,286.5 L574.2,285.5 L574.4,284.6 L574.7,283.6 L575.0,282.6 L575.3,281.7 L575.5,280.7 L575.8,279.7 L576.0,278.7 L576.2,277.7 L576.5,276.8 L576.7,275.8 L576.8,274.8 L577.0,273.8 L577.1,272.9 L577.3,271.9 L577.4,270.9 L577.5,269.9 L577.7,268.9 L577.8,267.9 L577.9,266.9 L578.0,265.9 L578.1,264.9 L578.2,263.9 L578.4,262.9 L578.5,261.9 L578.7,260.9 L578.8,259.9 L579.0,259.0 L579.1,258.0 L579.3,257.0 L579.5,256.0 L579.6,255.0 L579.8,254.0 L580.0,253.0 L580.1,252.0 L580.2,251.0 L580.4,250.1 L580.5,249.1 L580.6,248.1 L580.7,247.1 L580.8,246.1 L580.9,245.1 L581.0,244.1 L581.1,243.1 L581.2,242.1 L581.3,241.1 L581.4,240.1 L581.5,239.1 L581.5,238.1 L581.6,237.1 L581.7,236.1 L581.8,235.1 L581.9,234.1 L581.9,233.1 L582.0,232.1 L582.1,231.1 L582.2,230.1 L582.2,229.1 L582.3,228.1 L582.4,227.1 L582.5,226.1 L582.5,225.1 L582.6,224.1 L582.7,223.1 L582.7,222.1 L582.8,221.1 L582.9,220.2 L582.9,219.2 L583.0,218.2 L583.1,217.2 L583.1,216.2 L583.2,215.2 L583.3,214.2 L583.3,213.2 L583.4,212.2 L583.5,211.2 L583.5,210.2 L583.6,209.2 L583.6,208.2 L583.7,207.2 L583.8,206.2 L583.8,205.2 L583.9,204.2 L583.9,203.2 L584.0,202.2 L584.1,201.2 L584.1,200.2 L584.2,199.2 L584.2,198.2 L584.3,197.2 L584.3,196.2 L584.4,195.2 L584.5,194.2 L584.5,193.2 L584.6,192.2 L584.6,191.2 L584.7,190.2 L584.7,189.2 L584.8,188.2 L584.8,187.2 L584.9,186.2 L584.9,185.2 L585.0,184.2 L585.0,183.2 L585.1,182.2 L585.2,181.2 L585.2,180.2 L585.3,179.2 L585.3,178.2 L585.4,177.2 L585.4,176.2 L585.5,175.2 L585.5,174.2 L585.6,173.2 L585.6,172.2 L585.7,171.2 L585.7,170.2 L585.8,169.2 L585.8,168.2 L585.9,167.2 L586.0,166.2 L586.0,165.2 L586.1,164.2 L586.1,163.2 L586.2,162.2 L586.2,161.2 L586.3,160.2 L586.3,159.2 L586.4,158.2 L586.5,157.2 L586.5,156.2 L586.6,155.2 L586.6,154.2 L586.7,153.2 L586.7,152.2 L586.8,151.2 L586.9,150.2 L586.9,149.2 L587.0,148.2 L587.0,147.2 L587.1,146.2 L587.1,145.2 L587.2,144.2 L587.2,143.2 L587.3,142.2 L587.4,141.2 L587.4,140.2 L587.5,139.2 L587.5,138.2 L587.6,137.2 L587.6,136.2 L587.7,135.2 L587.7,134.2 L587.8,133.2 L587.9,132.2 L587.9,131.3 L588.0,130.3 L588.0,129.3 L588.1,128.3 L588.1,127.3 L588.2,126.3 L588.3,125.3 L588.3,124.3 L588.4,123.3 L588.4,122.3 L588.5,121.3 L588.6,120.3 L588.6,119.3 L588.7,118.3 L588.7,117.3 L588.8,116.3 L588.9,115.3 L588.9,114.3 L589.0,113.3 L589.1,112.3 L589.1,111.3 L589.2,110.3 L589.2,109.3 L589.3,108.3 L589.4,107.3 L589.4,106.3 L589.5,105.3 L589.6,104.3 L589.7,103.3 L589.7,102.3 L589.8,101.3 L589.9,100.3 L589.9,99.3 L590.0,98.3 L590.1,97.3 L590.2,96.3 L590.2,95.3 L590.3,94.3 L590.4,93.3 L590.5,92.3 L590.5,91.3 L590.6,90.3 L590.7,89.3 L590.7,88.3 L590.8,87.3 L590.9,86.3 L591.0,85.3 L591.0,84.3 L591.1,83.3 L591.2,82.3 L591.3,81.3 L591.3,80.3 L591.4,79.3 L591.5,78.3 L591.6,77.3 L591.6,76.4 L591.7,75.4 L591.8,74.4 L591.9,73.4 L592.0,72.4 L592.1,71.4 L592.1,70.4 L592.2,69.4 L592.3,68.4 L592.4,67.4 L592.5,66.4 L592.5,65.4 L592.6,64.4 L592.7,63.4 L592.8,62.4 L592.9,61.4 L593.0,60.4 L593.1,59.4 L593.2,58.4 L593.3,57.4 L593.5,56.4 L593.6,55.4 L593.8,54.5 L594.0,53.5 L594.2,52.5 L594.3,51.5 L594.5,50.5 L594.6,49.5 L594.8,48.5 L594.9,47.5 L595.1,46.5 L595.2,45.6 L595.3,44.6 L595.5,43.6 L595.6,42.6 L595.8,41.6 L595.9,40.6 L596.0,39.6 L596.2,38.6 L596.4,37.6 L596.6,36.7 L596.8,35.6 L597.1,34.7 L597.6,33.7 L598.2,34.1 L598.6,35.0 L598.9,36.0 L599.1,37.0 L599.2,37.9 L599.4,38.9 L599.5,39.9 L599.6,40.9 L599.7,41.9 L599.7,42.9 L599.8,43.9 L599.9,44.9 L600.0,45.9 L600.1,46.9 L600.2,47.9 L600.3,48.9 L600.3,49.9 L600.4,50.9 L600.5,51.9 L600.6,52.9 L600.8,53.9 L600.9,54.9 L601.0,55.9 L601.1,56.9 L601.2,57.9 L601.3,58.9 L601.4,59.9 L601.5,60.8 L601.6,61.8 L601.8,62.8 L601.9,63.8 L602.0,64.8 L602.1,65.8 L602.2,66.8 L602.3,67.8 L602.4,68.8 L602.5,69.8 L602.7,70.8 L602.8,71.8 L602.9,72.8 L603.0,73.8 L603.1,74.8 L603.3,75.8 L603.4,76.8 L603.5,77.7 L603.6,78.7 L603.8,79.7 L603.9,80.7 L604.0,81.7 L604.1,82.7 L604.3,83.7 L604.4,84.7 L604.5,85.7 L604.6,86.7 L604.7,87.7 L604.8,88.7 L604.9,89.7 L604.9,90.7 L605.0,91.7 L605.1,92.7 L605.2,93.7 L605.2,94.7 L605.3,95.7 L605.4,96.7 L605.4,97.7 L605.5,98.7 L605.5,99.7 L605.6,100.6 L605.7,101.6 L605.7,102.6 L605.8,103.6 L605.8,104.6 L605.9,105.6 L606.0,106.6 L606.0,107.6 L606.1,108.6 L606.2,109.6 L606.2,110.6 L606.3,111.6 L606.4,112.6 L606.5,113.6 L606.6,114.6 L606.6,115.6 L606.7,116.6 L606.8,117.6 L606.9,118.6 L606.9,119.6 L607.0,120.6 L607.1,121.6 L607.2,122.6 L607.3,123.6 L607.4,124.6 L607.4,125.6 L607.5,126.6 L607.6,127.6 L607.7,128.6 L607.8,129.6 L607.9,130.6 L608.0,131.6 L608.0,132.6 L608.1,133.6 L608.2,134.6 L608.3,135.6 L608.4,136.6 L608.5,137.6 L608.6,138.6 L608.7,139.5 L608.8,140.5 L608.9,141.5 L608.9,142.5 L609.0,143.5 L609.1,144.5 L609.2,145.5 L609.3,146.5 L609.4,147.5 L609.5,148.5 L609.6,149.5 L609.7,150.5 L609.8,151.5 L609.9,152.5 L610.0,153.5 L610.1,154.5 L610.2,155.5 L610.3,156.5 L610.4,157.5 L610.4,158.5 L610.5,159.5 L610.6,160.5 L610.7,161.5 L610.8,162.5 L610.9,163.5 L611.0,164.5 L611.1,165.4 L611.2,166.5 L611.3,167.4 L611.4,168.4 L611.4,169.4 L611.5,170.4 L611.6,171.4 L611.7,172.4 L611.8,173.4 L611.9,174.4 L612.0,175.4 L612.1,176.4 L612.2,177.4 L612.3,178.4 L612.4,179.4 L612.5,180.4 L612.5,181.4 L612.6,182.4 L612.7,183.4 L612.8,184.4 L612.9,185.4 L613.0,186.4 L613.1,187.4 L613.2,188.4 L613.3,189.4 L613.4,190.4 L613.6,191.4 L613.7,192.4 L613.8,193.4 L613.9,194.4 L614.0,195.3 L614.1,196.3 L614.2,197.3 L614.4,198.3 L614.5,199.3 L614.6,200.3 L614.7,201.3 L614.9,202.3 L615.0,203.3 L615.1,204.3 L615.3,205.3 L615.4,206.2 L615.5,207.2 L615.7,208.2 L615.9,209.2 L616.1,210.2 L616.2,211.2 L616.4,212.1 L616.6,213.1 L616.8,214.1 L617.0,215.1 L617.2,216.1 L617.4,217.1 L617.5,218.0 L617.7,219.0 L617.9,220.0 L618.1,221.0 L618.2,222.0 L618.4,223.0 L618.6,224.0 L618.8,225.0 L618.9,225.9 L619.1,226.9 L619.3,227.9 L619.4,228.9 L619.6,229.9 L619.8,230.9 L619.9,231.8 L620.1,232.8 L620.3,233.8 L620.5,234.8 L620.6,235.8 L620.8,236.8 L621.0,237.8 L621.2,238.7 L621.3,239.7 L621.5,240.7 L621.7,241.7 L621.9,242.7 L622.0,243.7 L622.2,244.7 L622.4,245.6 L622.6,246.6 L622.8,247.6 L623.0,248.6 L623.2,249.5 L623.4,250.6 L623.7,251.5 L623.9,252.5 L624.1,253.5 L624.4,254.5 L624.6,255.4 L624.9,256.4 L625.2,257.3 L625.4,258.3 L625.8,259.3 L626.1,260.2 L626.4,261.1 L626.7,262.1 L627.0,263.0 L627.4,264.0 L627.7,265.0 L628.0,265.9 L628.3,266.9 L628.6,267.8 L628.9,268.8 L629.2,269.7 L629.5,270.7 L629.8,271.7 L630.1,272.7 L630.4,273.6 L630.8,274.5 L631.2,275.4 L631.6,276.3 L632.0,277.2 L632.5,278.1 L633.0,278.8 L633.5,279.8 L634.1,280.5 L634.8,281.3 L635.4,282.2 L636.1,282.9 L636.7,283.6 L637.4,284.3 L638.0,285.2 L638.7,285.8 L639.4,286.6 L640.1,287.5 L640.7,288.0 L641.4,288.7 L642.2,289.8 L642.9,290.2 L643.7,291.0 L644.4,291.6 L645.2,292.2 L646.0,292.6 L646.9,293.4 L647.7,293.4 L648.6,294.4 L649.5,294.6 L650.4,295.3 L651.3,295.5 L652.2,296.2 L653.1,296.4 L654.1,296.9 L655.0,297.0 L655.9,297.7 L656.9,298.0 L657.8,297.9 L658.8,298.6 L659.8,299.0 L660.7,298.8 L661.7,299.0 L662.7,299.8 L663.7,300.0 L664.6,299.6 L665.6,300.3 L666.6,300.6 L667.6,300.2 L668.6,300.8 L669.6,300.6 L670.6,301.1 L671.5,301.0 L672.5,301.1 L673.5,301.0 L674.5,301.5 L675.5,301.6 L676.5,301.4 L677.5,301.3 L678.5,301.5 L679.5,301.7 L680.5,302.4 L681.5,302.3 L682.5,302.5 L683.5,302.5 L684.5,302.1 L685.5,302.3 L686.5,302.9 L687.5,302.9 L688.5,303.1 L689.5,303.0 L690.5,303.0 L691.5,303.1 L692.5,303.2 L693.5,302.9 L694.5,302.6 L695.5,302.9 L696.5,302.7 L697.5,302.9 L698.5,303.2 L699.5,303.0 L700.5,303.0 L701.5,302.9 L702.5,303.1 L703.5,303.2 L704.5,303.3 L705.5,303.6 L706.5,303.0 L707.5,303.1 L708.5,303.0 L709.5,303.7 L710.5,303.5 L711.5,303.5 L712.5,303.7 L713.5,303.0 L714.5,303.8 L715.5,303.3 L716.5,303.6 L717.5,303.4 L718.5,303.7 L719.5,303.4 L720.5,303.4 L721.5,303.4 L722.5,303.7 L723.5,303.5 L724.5,303.3 L725.5,303.5 L726.5,303.7 L727.5,303.5 L728.5,303.7 L729.5,303.9 L730.5,303.8 L731.5,303.9 L732.5,303.5 L733.5,304.0 L734.5,304.1 L735.5,303.8 L736.5,303.4 L737.5,303.4 L738.5,304.0 L739.5,304.1 L740.5,304.0 L741.5,303.8 L742.5,303.9 L743.5,303.5 L744.5,303.9 L745.5,304.3 L746.5,303.7 L747.5,304.0 L748.5,304.2 L749.5,304.1 L750.5,303.8 L751.5,303.8 L752.5,304.2 L753.5,304.3 L754.5,304.3 L755.5,303.9 L756.5,304.2 L757.5,304.3 L758.5,304.0 L759.5,304.3 L760.5,304.0 L761.5,303.8 L762.5,303.7 L763.5,304.3 L764.5,304.3 L765.5,303.8 L766.5,303.8 L767.5,304.0 L768.5,303.9 L769.5,304.4 L770.5,303.9 L771.5,304.3" fill="none" stroke="#1212e6" stroke-width="2.2" stroke-linejoin="round"/>
<path d="M463.0,304.1 L464.0,304.0 L465.0,304.4 L466.0,304.0 L467.0,304.1 L468.0,304.2 L469.0,304.0 L470.0,303.8 L471.0,304.4 L472.0,304.3 L473.0,304.1 L474.0,304.1 L475.0,304.2 L476.0,303.9 L477.0,303.7 L478.0,304.1 L479.0,304.4 L480.0,303.7 L481.0,304.4 L482.0,303.9 L483.0,304.4 L484.0,304.2 L485.0,303.8 L486.0,303.8 L487.0,304.3 L488.0,304.4 L489.0,304.3 L490.0,304.1 L491.0,304.0 L492.0,304.2 L493.0,304.3 L494.0,304.3 L495.0,303.8 L496.0,304.2 L497.0,304.3 L498.0,304.0 L499.0,303.6 L500.0,303.7 L501.0,304.1 L502.0,303.9 L503.0,304.3 L504.0,304.1 L505.0,304.1 L506.0,303.7 L507.0,304.0 L508.0,304.1 L509.0,304.3 L510.0,304.3 L511.0,303.7 L512.0,303.9 L513.0,304.3 L514.0,303.6 L515.0,303.6 L516.0,303.7 L517.0,304.1 L518.0,303.8 L519.0,304.1 L520.0,304.2 L521.0,304.1 L522.0,303.5 L523.0,304.0 L524.0,304.1 L525.0,304.0 L526.0,304.2 L527.0,304.1 L528.0,304.0 L529.0,304.2 L530.0,303.9 L531.0,303.6 L532.0,303.7 L533.0,304.2 L534.0,303.7 L535.0,303.8 L536.0,304.2 L537.1,304.0 L538.1,304.1 L539.1,303.8 L540.1,303.8 L541.1,303.5 L542.1,303.6 L543.1,303.5 L544.1,303.8 L545.1,303.8 L546.1,303.4 L547.1,303.9 L548.1,303.4 L549.1,303.6 L550.1,303.2 L551.1,303.5 L552.1,303.2 L553.1,303.7 L554.0,303.2 L555.0,303.5 L556.0,303.0 L557.0,302.8 L558.1,303.1 L559.1,302.4 L560.1,302.4 L561.0,302.3 L562.0,302.3 L562.9,301.7 L563.8,300.9 L564.6,300.7 L565.4,300.3 L566.2,299.6 L567.0,298.7 L567.7,297.9 L568.4,297.3 L569.1,296.7 L569.8,295.8 L570.5,295.2 L571.1,294.2 L571.6,293.5 L572.1,292.6 L572.5,291.7 L572.9,290.8 L573.3,289.9 L573.6,288.9 L574.0,288.0 L574.3,287.0 L574.6,286.1 L574.9,285.1 L575.2,284.1 L575.4,283.2 L575.7,282.2 L576.0,281.2 L576.2,280.3 L576.5,279.3 L576.7,278.3 L576.9,277.3 L577.1,276.3 L577.3,275.4 L577.5,274.4 L577.7,273.4 L577.8,272.4 L578.0,271.4 L578.1,270.4 L578.2,269.4 L578.4,268.5 L578.5,267.5 L578.6,266.5 L578.7,265.5 L578.9,264.5 L579.0,263.5 L579.1,262.5 L579.3,261.5 L579.4,260.5 L579.6,259.5 L579.7,258.5 L579.9,257.5 L580.0,256.6 L580.2,255.6 L580.3,254.6 L580.5,253.6 L580.6,252.6 L580.8,251.6 L580.9,250.6 L581.0,249.6 L581.1,248.6 L581.2,247.6 L581.4,246.6 L581.5,245.6 L581.6,244.6 L581.7,243.7 L581.7,242.7 L581.8,241.7 L581.9,240.7 L582.0,239.7 L582.1,238.7 L582.2,237.7 L582.3,236.7 L582.4,235.7 L582.4,234.7 L582.5,233.7 L582.6,232.7 L582.7,231.7 L582.7,230.7 L582.8,229.7 L582.9,228.7 L583.0,227.7 L583.0,226.7 L583.1,225.7 L583.2,224.7 L583.3,223.7 L583.3,222.7 L583.4,221.7 L583.5,220.7 L583.6,219.7 L583.6,218.7 L583.7,217.7 L583.8,216.7 L583.8,215.7 L583.9,214.7 L584.0,213.7 L584.1,212.7 L584.1,211.7 L584.2,210.7 L584.3,209.7 L584.4,208.7 L584.4,207.7 L584.5,206.7 L584.6,205.7 L584.7,204.7 L584.7,203.7 L584.8,202.7 L584.9,201.7 L584.9,200.7 L585.0,199.7 L585.1,198.8 L585.1,197.8 L585.2,196.8 L585.3,195.8 L585.4,194.8 L585.4,193.8 L585.5,192.8 L585.6,191.8 L585.6,190.8 L585.7,189.8 L585.8,188.8 L585.8,187.8 L585.9,186.8 L586.0,185.8 L586.0,184.8 L586.1,183.8 L586.2,182.8 L586.2,181.8 L586.3,180.8 L586.4,179.8 L586.4,178.8 L586.5,177.8 L586.6,176.8 L586.6,175.8 L586.7,174.8 L586.8,173.8 L586.8,172.8 L586.9,171.8 L587.0,170.8 L587.0,169.8 L587.1,168.8 L587.2,167.8 L587.2,166.8 L587.3,165.8 L587.4,164.8 L587.4,163.8 L587.5,162.8 L587.6,161.8 L587.6,160.8 L587.7,159.8 L587.7,158.8 L587.8,157.8 L587.9,156.8 L587.9,155.8 L588.0,154.8 L588.1,153.8 L588.1,152.8 L588.2,151.8 L588.3,150.8 L588.3,149.8 L588.4,148.8 L588.4,147.8 L588.5,146.8 L588.6,145.8 L588.6,144.8 L588.7,143.8 L588.7,142.8 L588.8,141.8 L588.9,140.8 L588.9,139.8 L589.0,138.8 L589.0,137.8 L589.1,136.8 L589.2,135.8 L589.2,134.8 L589.3,133.8 L589.3,132.8 L589.4,131.8 L589.5,130.8 L589.5,129.8 L589.6,128.8 L589.6,127.9 L589.7,126.9 L589.8,125.9 L589.8,124.9 L589.9,123.9 L590.0,122.9 L590.0,121.9 L590.1,120.9 L590.1,119.9 L590.2,118.9 L590.3,117.9 L590.3,116.9 L590.4,115.9 L590.5,114.9 L590.5,113.9 L590.6,112.9 L590.7,111.9 L590.7,110.9 L590.8,109.9 L590.9,108.9 L590.9,107.9 L591.0,106.9 L591.1,105.9 L591.2,104.9 L591.2,103.9 L591.3,102.9 L591.4,101.9 L591.4,100.9 L591.5,99.9 L591.6,98.9 L591.7,97.9 L591.7,96.9 L591.8,95.9 L591.9,94.9 L592.0,93.9 L592.1,92.9 L592.1,91.9 L592.2,90.9 L592.3,89.9 L592.4,88.9 L592.5,87.9 L592.6,86.9 L592.7,85.9 L592.8,84.9 L592.9,84.0 L593.0,83.0 L593.2,82.0 L593.3,81.0 L593.4,80.0 L593.5,79.0 L593.6,78.0 L593.7,77.0 L593.9,76.0 L594.0,75.0 L594.1,74.0 L594.3,73.0 L594.5,72.0 L594.6,70.9 L594.9,69.9 L595.3,69.4 L596.2,68.8 L597.1,69.4 L597.7,70.1 L598.1,71.1 L598.4,72.1 L598.7,73.0 L598.9,74.0 L599.1,75.0 L599.2,76.0 L599.4,77.0 L599.6,78.0 L599.8,78.9 L600.0,79.9 L600.2,80.9 L600.4,81.9 L600.6,82.9 L600.8,83.8 L601.0,84.8 L601.2,85.8 L601.4,86.8 L601.6,87.8 L601.8,88.8 L601.9,89.7 L602.1,90.7 L602.2,91.7 L602.4,92.7 L602.5,93.7 L602.7,94.7 L602.8,95.7 L603.0,96.7 L603.1,97.7 L603.2,98.7 L603.4,99.6 L603.5,100.6 L603.6,101.6 L603.7,102.6 L603.9,103.6 L604.0,104.6 L604.1,105.6 L604.2,106.6 L604.3,107.6 L604.4,108.6 L604.6,109.6 L604.7,110.6 L604.8,111.6 L604.9,112.6 L605.0,113.6 L605.1,114.6 L605.2,115.5 L605.3,116.5 L605.4,117.5 L605.5,118.5 L605.6,119.5 L605.7,120.5 L605.8,121.5 L605.9,122.5 L606.0,123.5 L606.0,124.5 L606.1,125.5 L606.2,126.5 L606.3,127.5 L606.4,128.5 L606.5,129.5 L606.6,130.5 L606.7,131.5 L606.7,132.5 L606.8,133.5 L606.9,134.5 L607.0,135.5 L607.1,136.5 L607.2,137.5 L607.2,138.5 L607.3,139.5 L607.4,140.5 L607.5,141.5 L607.6,142.5 L607.7,143.5 L607.8,144.5 L607.8,145.4 L607.9,146.4 L608.0,147.4 L608.1,148.4 L608.2,149.4 L608.3,150.4 L608.4,151.4 L608.5,152.4 L608.6,153.4 L608.7,154.4 L608.7,155.4 L608.8,156.4 L608.9,157.4 L609.0,158.4 L609.1,159.4 L609.2,160.4 L609.3,161.4 L609.4,162.4 L609.5,163.4 L609.7,164.4 L609.8,165.4 L609.9,166.4 L610.0,167.4 L610.1,168.4 L610.2,169.4 L610.3,170.3 L610.4,171.3 L610.5,172.3 L610.6,173.3 L610.7,174.3 L610.8,175.3 L610.9,176.3 L611.0,177.3 L611.2,178.3 L611.3,179.3 L611.4,180.3 L611.5,181.3 L611.6,182.3 L611.7,183.3 L611.8,184.3 L611.9,185.3 L612.1,186.3 L612.2,187.2 L612.3,188.2 L612.4,189.2 L612.5,190.2 L612.6,191.2 L612.7,192.2 L612.8,193.2 L613.0,194.2 L613.1,195.2 L613.2,196.2 L613.3,197.2 L613.4,198.2 L613.5,199.2 L613.6,200.2 L613.7,201.2 L613.9,202.2 L614.0,203.2 L614.1,204.2 L614.2,205.1 L614.3,206.1 L614.4,207.1 L614.5,208.1 L614.6,209.1 L614.7,210.1 L614.8,211.1 L615.0,212.1 L615.1,213.1 L615.2,214.1 L615.3,215.1 L615.4,216.1 L615.6,217.1 L615.7,218.1 L615.9,219.1 L616.0,220.0 L616.2,221.0 L616.4,222.0 L616.5,223.0 L616.7,224.0 L616.9,225.0 L617.0,226.0 L617.2,226.9 L617.4,227.9 L617.5,228.9 L617.7,229.9 L617.9,230.9 L618.1,231.9 L618.2,232.9 L618.4,233.8 L618.6,234.8 L618.7,235.8 L618.9,236.8 L619.1,237.8 L619.2,238.8 L619.4,239.8 L619.5,240.8 L619.7,241.8 L619.9,242.7 L620.1,243.7 L620.2,244.7 L620.4,245.7 L620.6,246.7 L620.9,247.6 L621.1,248.6 L621.3,249.6 L621.6,250.6 L621.8,251.6 L622.0,252.5 L622.3,253.4 L622.6,254.4 L622.8,255.4 L623.1,256.3 L623.3,257.3 L623.6,258.3 L623.9,259.3 L624.2,260.2 L624.5,261.2 L624.8,262.1 L625.1,263.1 L625.4,264.0 L625.7,265.0 L626.0,266.0 L626.3,266.9 L626.6,267.9 L626.8,268.9 L627.1,269.8 L627.4,270.8 L627.7,271.8 L628.0,272.7 L628.3,273.6 L628.6,274.6 L628.9,275.5 L629.3,276.5 L629.6,277.4 L630.0,278.3 L630.5,279.2 L630.9,280.0 L631.4,281.0 L632.0,281.8 L632.5,282.6 L633.1,283.6 L633.7,284.4 L634.2,285.1 L634.8,285.9 L635.5,286.8 L636.1,287.5 L636.7,288.2 L637.4,288.9 L638.1,289.6 L638.8,290.6 L639.6,291.3 L640.3,291.6 L641.1,292.4 L642.0,292.7 L642.9,293.5 L643.8,293.7 L644.7,294.4 L645.5,294.7 L646.4,294.9 L647.4,295.6 L648.3,296.1 L649.2,296.1 L650.1,296.4 L651.1,296.9 L652.0,297.6 L653.0,298.1 L653.9,298.1 L654.9,298.7 L655.8,298.9 L656.8,298.8 L657.7,299.2 L658.7,299.8 L659.7,299.8 L660.6,300.0 L661.6,300.4 L662.6,300.2 L663.6,300.7 L664.6,300.9 L665.5,301.1 L666.5,301.3 L667.5,301.1 L668.5,301.4 L669.5,301.5 L670.5,301.3 L671.5,302.0 L672.5,302.2 L673.5,302.0 L674.5,302.0 L675.5,302.1 L676.5,302.2 L677.5,302.2 L678.5,302.3 L679.5,302.9 L680.5,302.5 L681.5,302.5 L682.5,302.9 L683.5,302.4 L684.5,302.8 L685.5,303.0 L686.5,303.3 L687.5,302.9 L688.5,302.8 L689.5,303.6 L690.5,302.8 L691.5,303.2 L692.5,303.3 L693.5,303.7 L694.5,303.3 L695.5,303.2 L696.5,303.3 L697.5,303.4 L698.5,303.2 L699.5,303.8 L700.5,303.5 L701.5,303.7 L702.5,303.4 L703.5,303.7 L704.5,303.9 L705.5,303.4 L706.5,304.0 L707.5,303.5 L708.5,303.8 L709.5,304.0 L710.5,303.7 L711.5,304.1 L712.5,303.6 L713.5,303.7 L714.5,304.1 L715.5,303.8 L716.5,303.4 L717.5,303.5 L718.5,303.8 L719.5,303.7 L720.5,303.5 L721.5,304.1 L722.5,303.7 L723.5,304.2 L724.5,303.8 L725.5,303.6 L726.5,303.8 L727.5,304.2 L728.5,304.2 L729.5,304.0 L730.5,303.7 L731.5,303.9 L732.5,303.7 L733.5,303.8 L734.5,303.6 L735.5,303.6 L736.5,304.3 L737.5,304.2 L738.5,303.8 L739.5,304.1 L740.5,303.6 L741.5,304.3 L742.5,304.1 L743.5,304.2 L744.5,304.0 L745.5,304.0 L746.5,304.3 L747.5,303.9 L748.5,303.7 L749.5,303.8 L750.5,304.4 L751.5,303.9 L752.5,303.7 L753.5,304.2 L754.5,303.8 L755.5,304.1 L756.5,304.3 L757.5,303.9 L758.5,304.1 L759.5,304.5 L760.5,304.4 L761.5,304.4 L762.5,303.8 L763.5,304.5 L764.5,304.2 L765.5,303.9 L766.5,304.6 L767.5,303.9 L768.5,304.6 L769.5,303.8 L770.5,303.9 L771.5,304.2" fill="none" stroke="#b40c2a" stroke-width="2.4" stroke-linejoin="round"/>
<rect x="624.2" y="19.6" width="176.3" height="71.5" fill="#fff" stroke="#1a1a1a" stroke-width="1.3"/>
<line x1="630.2" y1="30.8" x2="660" y2="30.8" stroke="#12a012" stroke-width="2"/>
<line x1="630.2" y1="55.5" x2="660" y2="55.5" stroke="#1212e6" stroke-width="1.6"/>
<line x1="630.2" y1="80.2" x2="660" y2="80.2" stroke="#b8102c" stroke-width="2"/>
<text class="lg" transform="translate(663.3,35.4) rotate(0.03) scale(1.0600,1)" fill="#1aa81a" stroke="#1aa81a" stroke-width="0.2">ZnO:Ga-PS (5 %)</text>
<text class="lg" transform="translate(663.3,60.0) rotate(0.03) scale(1.0600,1)" fill="#1a1ad0" stroke="#1a1ad0" stroke-width="0.2">ZnO:Ga-SiO2-PS (10 %)</text>
<text class="lg" transform="translate(663.3,84.7) rotate(0.03) scale(1.0600,1)" fill="#b01434" stroke="#b01434" stroke-width="0.2">ZnO:Ga-PS (10 %)</text>
</g></svg></body></html>
